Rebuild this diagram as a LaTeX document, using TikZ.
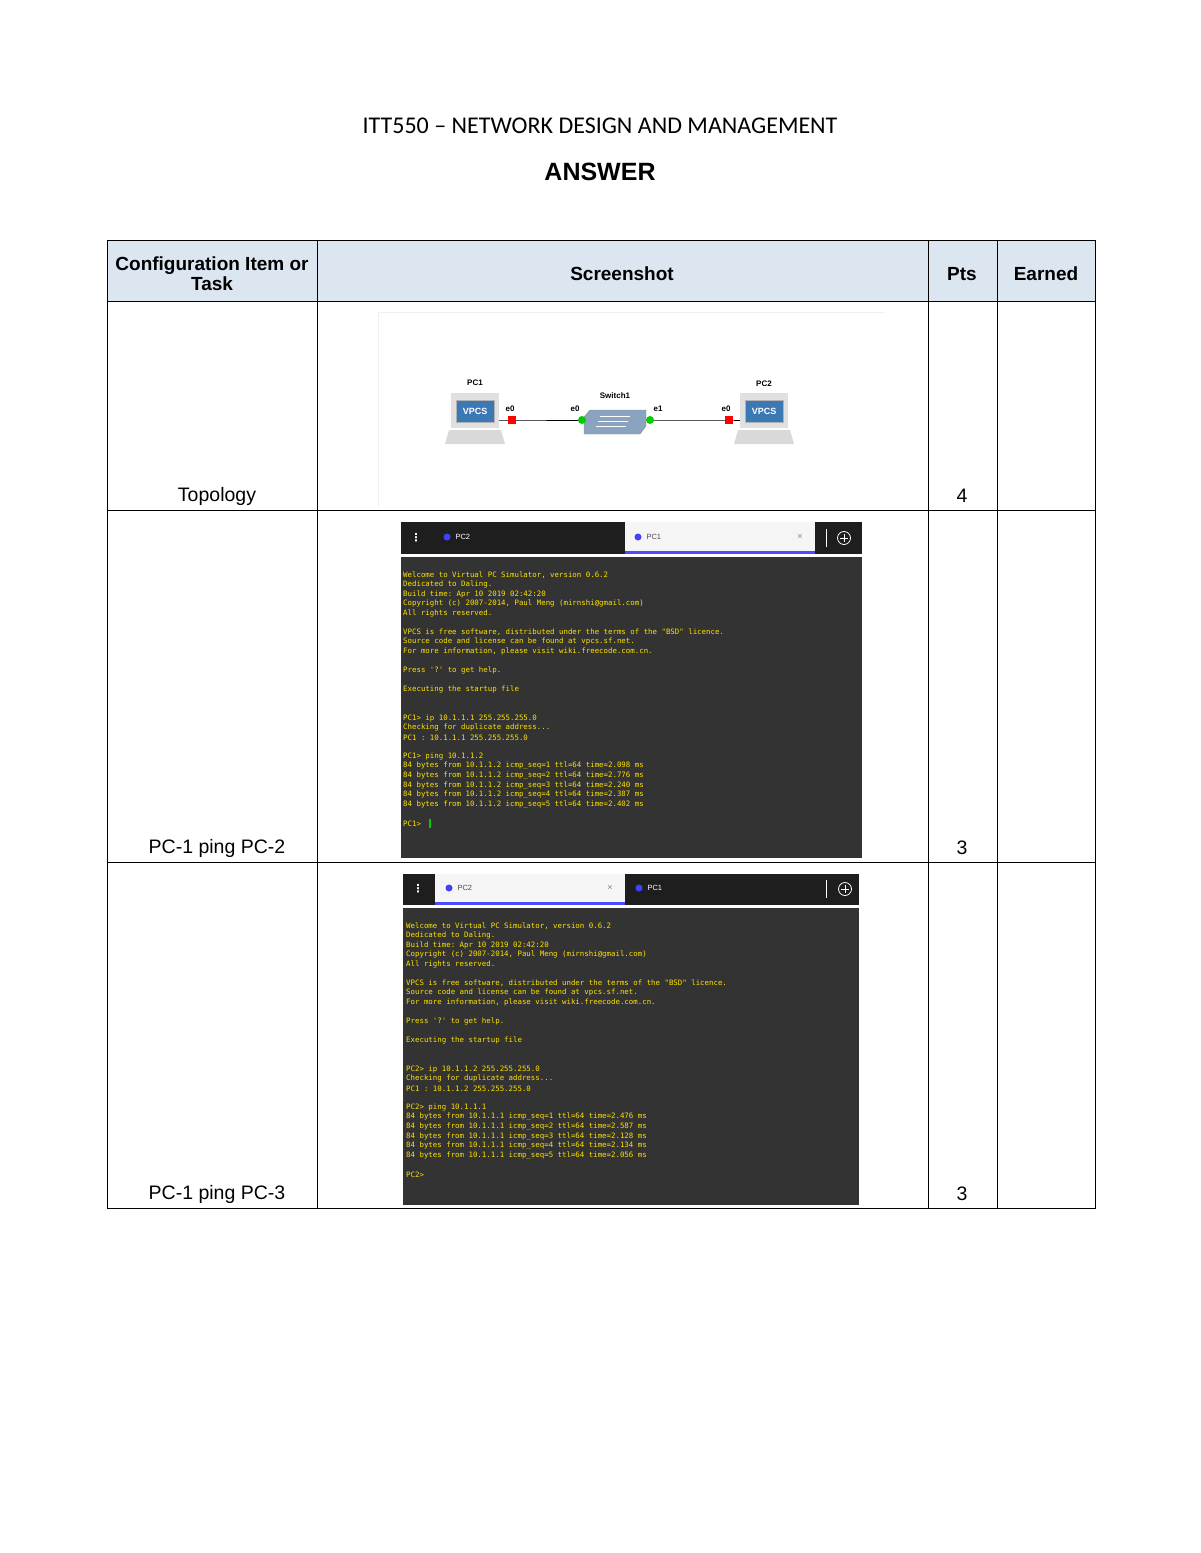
\documentclass[tikz,border=0pt]{standalone}
\usepackage{fontspec}
\usetikzlibrary{calc}
\setmainfont{Liberation Sans}
\newfontfamily\carlitofont{Carlito}
\newfontfamily\djv{DejaVu Sans}
\setmonofont{DejaVu Sans Mono}
\begin{document}
\begin{tikzpicture}[x=1pt,y=-1pt,
  hdr/.style={font=\fontsize{19}{20}\selectfont\bfseries,align=center},
  cell/.style={font=\fontsize{19.5}{21}\selectfont},
  term/.style={font=\fontsize{7.4}{8}\selectfont\ttfamily,text=yellow!85!orange,anchor=west,inner sep=0},
  lbl/.style={font=\fontsize{8}{9}\selectfont\bfseries,inner sep=0},
  port/.style={font=\fontsize{8}{9}\selectfont\bfseries,inner sep=0}]
\definecolor{hb}{HTML}{DCE6F1}
\definecolor{tb}{HTML}{1E1E1E}
\definecolor{tbody}{HTML}{333333}
\definecolor{swc}{HTML}{8AA4C0}
\definecolor{vp}{HTML}{3C78B4}
\useasboundingbox (0,0) rectangle (1200,1553);
\node (title) at (600,126) {\carlitofont\fontsize{24}{26}\selectfont ITT550 – NETWORK DESIGN AND MANAGEMENT};
\node (ans) at (600,172) {\fontsize{25}{27}\selectfont\bfseries ANSWER};
% table
\fill[hb] (107,240) rectangle (1095,301);
\draw[line width=0.8pt] (107,240) rectangle (1095,1208);
\foreach \y in {301,510,862} \draw[line width=0.8pt] (107,\y) -- (1095,\y);
\foreach \x in {317,928,997} \draw[line width=0.8pt] (\x,240) -- (\x,1208);
\node[hdr] (h1) at (212,274) {Configuration Item or\\Task};
\node[hdr] (h2) at (622,274) {Screenshot};
\node[hdr] (h3) at (962,274) {Pts};
\node[hdr] (h4) at (1046,274) {Earned};
\node[cell] (c1) at (217,496) {Topology};
\node[cell] (c2) at (217,848) {PC-1 ping PC-2};
\node[cell] (c3) at (217,1194) {PC-1 ping PC-3};
\node[cell] (p1) at (962,496) {4};
\node[cell] (p2) at (962,848) {3};
\node[cell] (p3) at (962,1194) {3};
% topology
\draw[black!6] (378,312) -- (885,312) (378,312) -- (378,507);
\node[lbl] (pc1l) at (475,383) {PC1};
\node[lbl] (pc2l) at (764,384) {PC2};
\node[lbl] (swl) at (615,396) {Switch1};
\foreach \cx/\nm in {475/pc1,764/pc2}{
  \fill[black!12] (\cx-24,393) rectangle (\cx+24,428);
  \fill[black!15] (\cx-26,430) -- (\cx+26,430) -- (\cx+30,444) -- (\cx-30,444) -- cycle;
  \node[fill=vp, draw=black!30, text=white, font=\fontsize{9}{10}\selectfont\bfseries, minimum width=38, minimum height=22, inner sep=0] (\nm) at (\cx,411) {VPCS};
}
\draw[fill=swc, draw=black!45] (590,410) -- (646,410) -- (646,426) -- (640,434) -- (584,434) -- (584,417) -- cycle;
\draw[white,line width=0.6pt] (600,416) -- (630,416) (598,421) -- (628,421) (596,426) -- (626,426);
\coordinate (a) at (512,420); \coordinate (b) at (582,420);
\coordinate (c) at (650,420); \coordinate (d) at (729,420);
\coordinate (pa1) at (499,420); \coordinate (pd1) at (740,420);
\draw[line width=1pt] (pa1) -- (a) -- (b);
\draw[line width=1pt] (c) -- (d) -- (pd1);
\fill[red] ($(a)+(-4,-4)$) rectangle ($(a)+(4,4)$);
\fill[red] ($(d)+(-4,-4)$) rectangle ($(d)+(4,4)$);
\fill[green!80!black] (b) circle (4); \fill[green!80!black] (c) circle (4);
\node[port] (pa) at (510,409) {e0};
\node[port] (pb) at (575,409) {e0};
\node[port] (pc) at (658,409) {e1};
\node[port] (pd) at (726,409) {e0};
% terminal 1
\fill[tb] (401,522) rectangle (862,554);
\fill[black!4] (625,522) rectangle (815,552);
\fill[blue!70] (625,551) rectangle (815,554);
\fill[tbody] (401,557) rectangle (862,858);
\node[font=\djv\fontsize{11}{11}\selectfont\bfseries,text=white] (m1) at (416,538) {⋮};
\fill[blue!75] (447,537) circle (3.5);
\node[anchor=west,font=\fontsize{7.5}{8}\selectfont,text=white] (t1a) at (452,537) {PC2};
\fill[blue!75] (638,537) circle (3.5);
\node[anchor=west,font=\fontsize{7.5}{8}\selectfont,text=black!70] (t1b) at (643,537) {PC1};
\node[font=\fontsize{9}{9}\selectfont,text=black!50] (x1) at (800,537) {×};
\draw[white] (826,529) -- (826,547);
\draw[white,line width=0.8pt] (844,538) circle (6.5);
\draw[white,line width=0.8pt] (840,538) -- (848,538) (844,534) -- (844,542);
\foreach \i/\t in {0/{Welcome to Virtual PC Simulator, version 0.6.2},
 1/{Dedicated to Daling.},
 2/{Build time: Apr 10 2019 02:42:20},
 3/{Copyright (c) 2007-2014, Paul Meng (mirnshi@gmail.com)},
 4/{All rights reserved.},
 6/{VPCS is free software, distributed under the terms of the "BSD" licence.},
 7/{Source code and license can be found at vpcs.sf.net.},
 8/{For more information, please visit wiki.freecode.com.cn.},
 10/{Press '?' to get help.},
 12/{Executing the startup file},
 15/{PC1> ip 10.1.1.1 255.255.255.0},
 16/{Checking for duplicate address...},
 17/{PC1 : 10.1.1.1 255.255.255.0},
 19/{PC1> ping 10.1.1.2},
 20/{84 bytes from 10.1.1.2 icmp\_seq=1 ttl=64 time=2.098 ms},
 21/{84 bytes from 10.1.1.2 icmp\_seq=2 ttl=64 time=2.776 ms},
 22/{84 bytes from 10.1.1.2 icmp\_seq=3 ttl=64 time=2.240 ms},
 23/{84 bytes from 10.1.1.2 icmp\_seq=4 ttl=64 time=2.387 ms},
 24/{84 bytes from 10.1.1.2 icmp\_seq=5 ttl=64 time=2.402 ms},
 26/{PC1> }}
 \node[term] at (403,575+9.55*\i) {\t};
\fill[green!80!black] (429,819) rectangle (431,828);
% terminal 2
\fill[tb] (403,874) rectangle (859,905);
\fill[black!4] (435,874) rectangle (625,903);
\fill[blue!70] (435,902) rectangle (625,905);
\fill[tbody] (403,908) rectangle (859,1205);
\node[font=\djv\fontsize{11}{11}\selectfont\bfseries,text=white] (m2) at (418,889) {⋮};
\fill[blue!75] (449,888) circle (3.5);
\node[anchor=west,font=\fontsize{7.5}{8}\selectfont,text=black!70] (t2a) at (454,888) {PC2};
\fill[blue!75] (639,888) circle (3.5);
\node[anchor=west,font=\fontsize{7.5}{8}\selectfont,text=white] (t2b) at (644,888) {PC1};
\node[font=\fontsize{9}{9}\selectfont,text=black!50] (x2) at (610,888) {×};
\draw[white] (826,880) -- (826,898);
\draw[white,line width=0.8pt] (845,889) circle (6.5);
\draw[white,line width=0.8pt] (841,889) -- (849,889) (845,885) -- (845,893);
\foreach \i/\t in {0/{Welcome to Virtual PC Simulator, version 0.6.2},
 1/{Dedicated to Daling.},
 2/{Build time: Apr 10 2019 02:42:20},
 3/{Copyright (c) 2007-2014, Paul Meng (mirnshi@gmail.com)},
 4/{All rights reserved.},
 6/{VPCS is free software, distributed under the terms of the "BSD" licence.},
 7/{Source code and license can be found at vpcs.sf.net.},
 8/{For more information, please visit wiki.freecode.com.cn.},
 10/{Press '?' to get help.},
 12/{Executing the startup file},
 15/{PC2> ip 10.1.1.2 255.255.255.0},
 16/{Checking for duplicate address...},
 17/{PC1 : 10.1.1.2 255.255.255.0},
 19/{PC2> ping 10.1.1.1},
 20/{84 bytes from 10.1.1.1 icmp\_seq=1 ttl=64 time=2.476 ms},
 21/{84 bytes from 10.1.1.1 icmp\_seq=2 ttl=64 time=2.587 ms},
 22/{84 bytes from 10.1.1.1 icmp\_seq=3 ttl=64 time=2.128 ms},
 23/{84 bytes from 10.1.1.1 icmp\_seq=4 ttl=64 time=2.134 ms},
 24/{84 bytes from 10.1.1.1 icmp\_seq=5 ttl=64 time=2.056 ms},
 26/{PC2> }}
 \node[term] at (406,926+9.55*\i) {\t};
\end{tikzpicture}
\end{document}
